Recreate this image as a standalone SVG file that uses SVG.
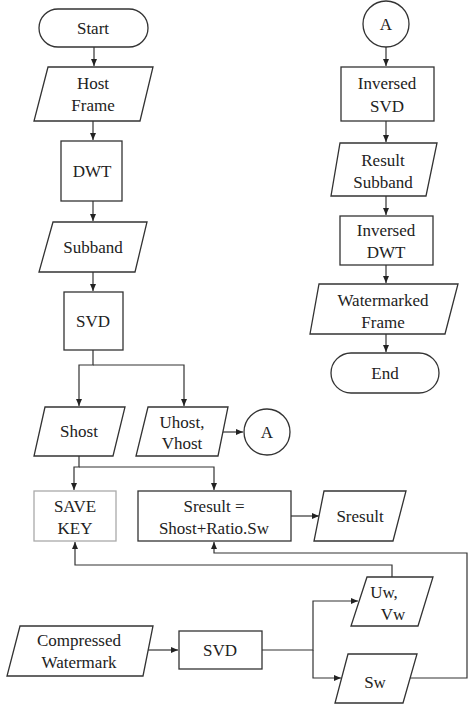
<svg xmlns="http://www.w3.org/2000/svg" width="474" height="711" viewBox="0 0 474 711">
<style>
.s{fill:#fff;stroke:#333;stroke-width:1.3}
.g{fill:#fff;stroke:#aaa;stroke-width:1.3}
.t{font-family:"Liberation Serif","Times New Roman",serif;font-size:17px;fill:#222;text-anchor:middle}
.c{fill:none;stroke:#333;stroke-width:1.2}
</style>
<defs>
<marker id="ah" markerUnits="userSpaceOnUse" markerWidth="8" markerHeight="8" refX="7" refY="4" orient="auto">
<path d="M0,1 L7,4 L0,7 Z" fill="#222"/>
</marker>
</defs>
<rect width="474" height="711" fill="#fff"/>
<g id="connectors">
<path class="c" d="M94,47 V66" marker-end="url(#ah)"/>
<path class="c" d="M93,121 V140" marker-end="url(#ah)"/>
<path class="c" d="M93,201 V221" marker-end="url(#ah)"/>
<path class="c" d="M93,272 V291" marker-end="url(#ah)"/>
<path class="c" d="M93,350 V365 H79 V406" marker-end="url(#ah)"/>
<path class="c" d="M93,365 H184 V406" marker-end="url(#ah)"/>
<path class="c" d="M222,432 H243" marker-end="url(#ah)"/>
<path class="c" d="M79,456 V467 H74 V490" marker-end="url(#ah)"/>
<path class="c" d="M79,467 H214 V490" marker-end="url(#ah)"/>
<path class="c" d="M291,516 H319" marker-end="url(#ah)"/>
<path class="c" d="M392,577 V565 H75 V542" marker-end="url(#ah)"/>
<path class="c" d="M410,678 H467 V553 H214 V542" marker-end="url(#ah)"/>
<path class="c" d="M148,650 H178" marker-end="url(#ah)"/>
<path class="c" d="M262,650 H313 V601 H358" marker-end="url(#ah)"/>
<path class="c" d="M313,650 V678 H341" marker-end="url(#ah)"/>
<path class="c" d="M386,47 V66" marker-end="url(#ah)"/>
<path class="c" d="M386,121 V142" marker-end="url(#ah)"/>
<path class="c" d="M386,196 V215" marker-end="url(#ah)"/>
<path class="c" d="M386,265 V283" marker-end="url(#ah)"/>
<path class="c" d="M386,334 V352" marker-end="url(#ah)"/>
</g>
<g id="start"><rect class="s" x="39" y="9" width="109" height="38" rx="19"/><text class="t" x="93" y="34">Start</text></g>
<g id="hostframe"><polygon class="s" points="48,67 153,67 140,121 34,121"/><text class="t" x="93" y="89">Host</text><text class="t" x="93" y="111">Frame</text></g>
<g id="dwt"><rect class="s" x="61" y="141" width="61" height="60"/><text class="t" x="92" y="177">DWT</text></g>
<g id="subband"><polygon class="s" points="53,222 147,222 135,272 39,272"/><text class="t" x="93" y="253">Subband</text></g>
<g id="svd1"><rect class="s" x="64" y="292" width="59" height="58"/><text class="t" x="93" y="327">SVD</text></g>
<g id="shost"><polygon class="s" points="45,407 125,407 113,456 34,456"/><text class="t" x="79" y="437">Shost</text></g>
<g id="uhost"><polygon class="s" points="148,407 228,407 218,456 136,456"/><text class="t" x="182" y="428">Uhost,</text><text class="t" x="182" y="449">Vhost</text></g>
<g id="connA1"><circle class="s" cx="267" cy="432" r="23"/><text class="t" x="267" y="438">A</text></g>
<g id="savekey"><rect class="g" x="34" y="491" width="82" height="50"/><text class="t" x="75" y="512">SAVE</text><text class="t" x="75" y="534">KEY</text></g>
<g id="sresultcalc"><rect class="s" x="138" y="491" width="153" height="50"/><text class="t" x="214" y="512">Sresult =</text><text class="t" x="214" y="534">Shost+Ratio.Sw</text></g>
<g id="sresult"><polygon class="s" points="324,491 406,491 393,541 314,541"/><text class="t" x="360" y="522">Sresult</text></g>
<g id="uwvw"><polygon class="s" points="367,577 433,577 418,626 351,626"/><text class="t" x="384" y="598">Uw,</text><text class="t" x="393" y="620">Vw</text></g>
<g id="sw"><polygon class="s" points="348,654 417,654 403,703 335,703"/><text class="t" x="375" y="688">Sw</text></g>
<g id="compressed"><polygon class="s" points="20,626 153,626 143,676 7,676"/><text class="t" x="79" y="646">Compressed</text><text class="t" x="79" y="668">Watermark</text></g>
<g id="svd2"><rect class="s" x="179" y="631" width="83" height="38"/><text class="t" x="220" y="656">SVD</text></g>
<g id="connA2"><circle class="s" cx="386" cy="24" r="23"/><text class="t" x="386" y="30">A</text></g>
<g id="invsvd"><rect class="s" x="341" y="67" width="93" height="54"/><text class="t" x="387" y="89">Inversed</text><text class="t" x="387" y="112">SVD</text></g>
<g id="resultsubband"><polygon class="s" points="340,143 437,143 426,196 331,196"/><text class="t" x="383" y="166">Result</text><text class="t" x="383" y="188">Subband</text></g>
<g id="invdwt"><rect class="s" x="340" y="216" width="93" height="49"/><text class="t" x="386" y="236">Inversed</text><text class="t" x="386" y="258">DWT</text></g>
<g id="wmframe"><polygon class="s" points="319,284 458,284 445,334 310,334"/><text class="t" x="383" y="306">Watermarked</text><text class="t" x="383" y="328">Frame</text></g>
<g id="end"><rect class="s" x="331" y="353" width="108" height="40" rx="20"/><text class="t" x="385" y="379">End</text></g>
</svg>
